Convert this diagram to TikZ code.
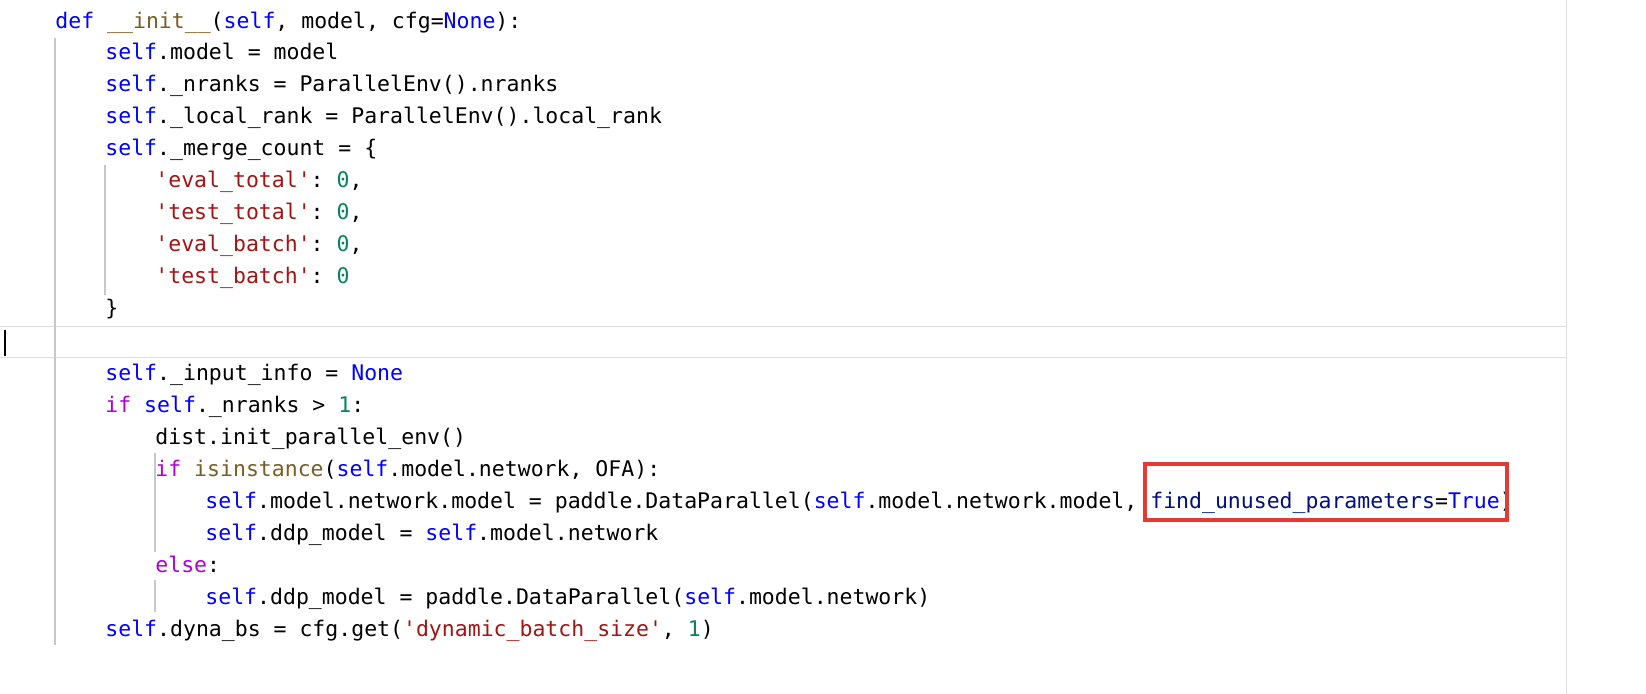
\documentclass[tikz,border=0pt]{standalone}
\usepackage{fontspec}
\setmonofont{DejaVu Sans Mono}
\definecolor{kw}{HTML}{0000FF}
\definecolor{fn}{HTML}{795E26}
\definecolor{st}{HTML}{A31515}
\definecolor{nu}{HTML}{098658}
\definecolor{ct}{HTML}{AF00DB}
\definecolor{pa}{HTML}{001080}
\definecolor{gd}{HTML}{C8C8C8}
\definecolor{rb}{HTML}{E53935}
\newcommand{\K}[1]{\textcolor{kw}{#1}}
\newcommand{\F}[1]{\textcolor{fn}{#1}}
\newcommand{\Sx}[1]{\textcolor{st}{#1}}
\newcommand{\N}[1]{\textcolor{nu}{#1}}
\newcommand{\C}[1]{\textcolor{ct}{#1}}
\newcommand{\PP}[1]{\textcolor{pa}{#1}}
\begin{document}
\begin{tikzpicture}[x=0.5pt,y=-0.5pt,
  code/.style={anchor=base west,inner sep=0pt,font=\fontsize{10.75pt}{12pt}\ttfamily},
  guide/.style={draw=gd,line width=0.7pt}]
\clip (0,0) rectangle (1646,694);
\fill[white] (0,0) rectangle (1646,694);
\draw[gd!60,line width=0.5pt] (0,327) -- (1566,327) (0,358) -- (1566,358);
\draw[gd!60,line width=0.5pt] (1566,0) -- (1566,694);
\draw[black,line width=0.8pt] (5,330) -- (5,356);
\draw[guide] (55,38) -- (55,645);
\draw[guide] (105,165) -- (105,295);
\draw[guide] (155,453) -- (155,485);
\draw[guide] (155,485) -- (155,552);
\draw[guide] (155,580) -- (155,612);
\node[code] (l1) at (55,29) {\K{def} \F{\_\_init\_\_}(\K{self}, model, cfg=\K{None}):};
\node[code] (l2) at (105,60) {\K{self}.model = model};
\node[code] (l3) at (105,92) {\K{self}.\_nranks = ParallelEnv().nranks};
\node[code] (l4) at (105,124) {\K{self}.\_local\_rank = ParallelEnv().local\_rank};
\node[code] (l5) at (105,156) {\K{self}.\_merge\_count = \{};
\node[code] (l6) at (155,188) {\Sx{'eval\_total'}: \N{0},};
\node[code] (l7) at (155,220) {\Sx{'test\_total'}: \N{0},};
\node[code] (l8) at (155,252) {\Sx{'eval\_batch'}: \N{0},};
\node[code] (l9) at (155,284) {\Sx{'test\_batch'}: \N{0}};
\node[code] (l10) at (105,316) {\}};
\node[code] (l11) at (105,381) {\K{self}.\_input\_info = \K{None}};
\node[code] (l12) at (105,413) {\C{if} \K{self}.\_nranks > \N{1}:};
\node[code] (l13) at (155,445) {dist.init\_parallel\_env()};
\node[code] (l14) at (155,477) {\C{if} \F{isinstance}(\K{self}.model.network, OFA):};
\node[code] (l15) at (205,509) {\K{self}.model.network.model = paddle.DataParallel(\K{self}.model.network.model, \PP{find\_unused\_parameters}=\K{True})};
\node[code] (l16) at (205,541) {\K{self}.ddp\_model = \K{self}.model.network};
\node[code] (l17) at (155,573) {\C{else}:};
\node[code] (l18) at (205,605) {\K{self}.ddp\_model = paddle.DataParallel(\K{self}.model.network)};
\node[code] (l19) at (105,637) {\K{self}.dyna\_bs = cfg.get(\Sx{'dynamic\_batch\_size'}, \N{1})};
\draw[rb,line width=2.2pt] (1145,464) rectangle (1507,520);
\end{tikzpicture}
\end{document}
